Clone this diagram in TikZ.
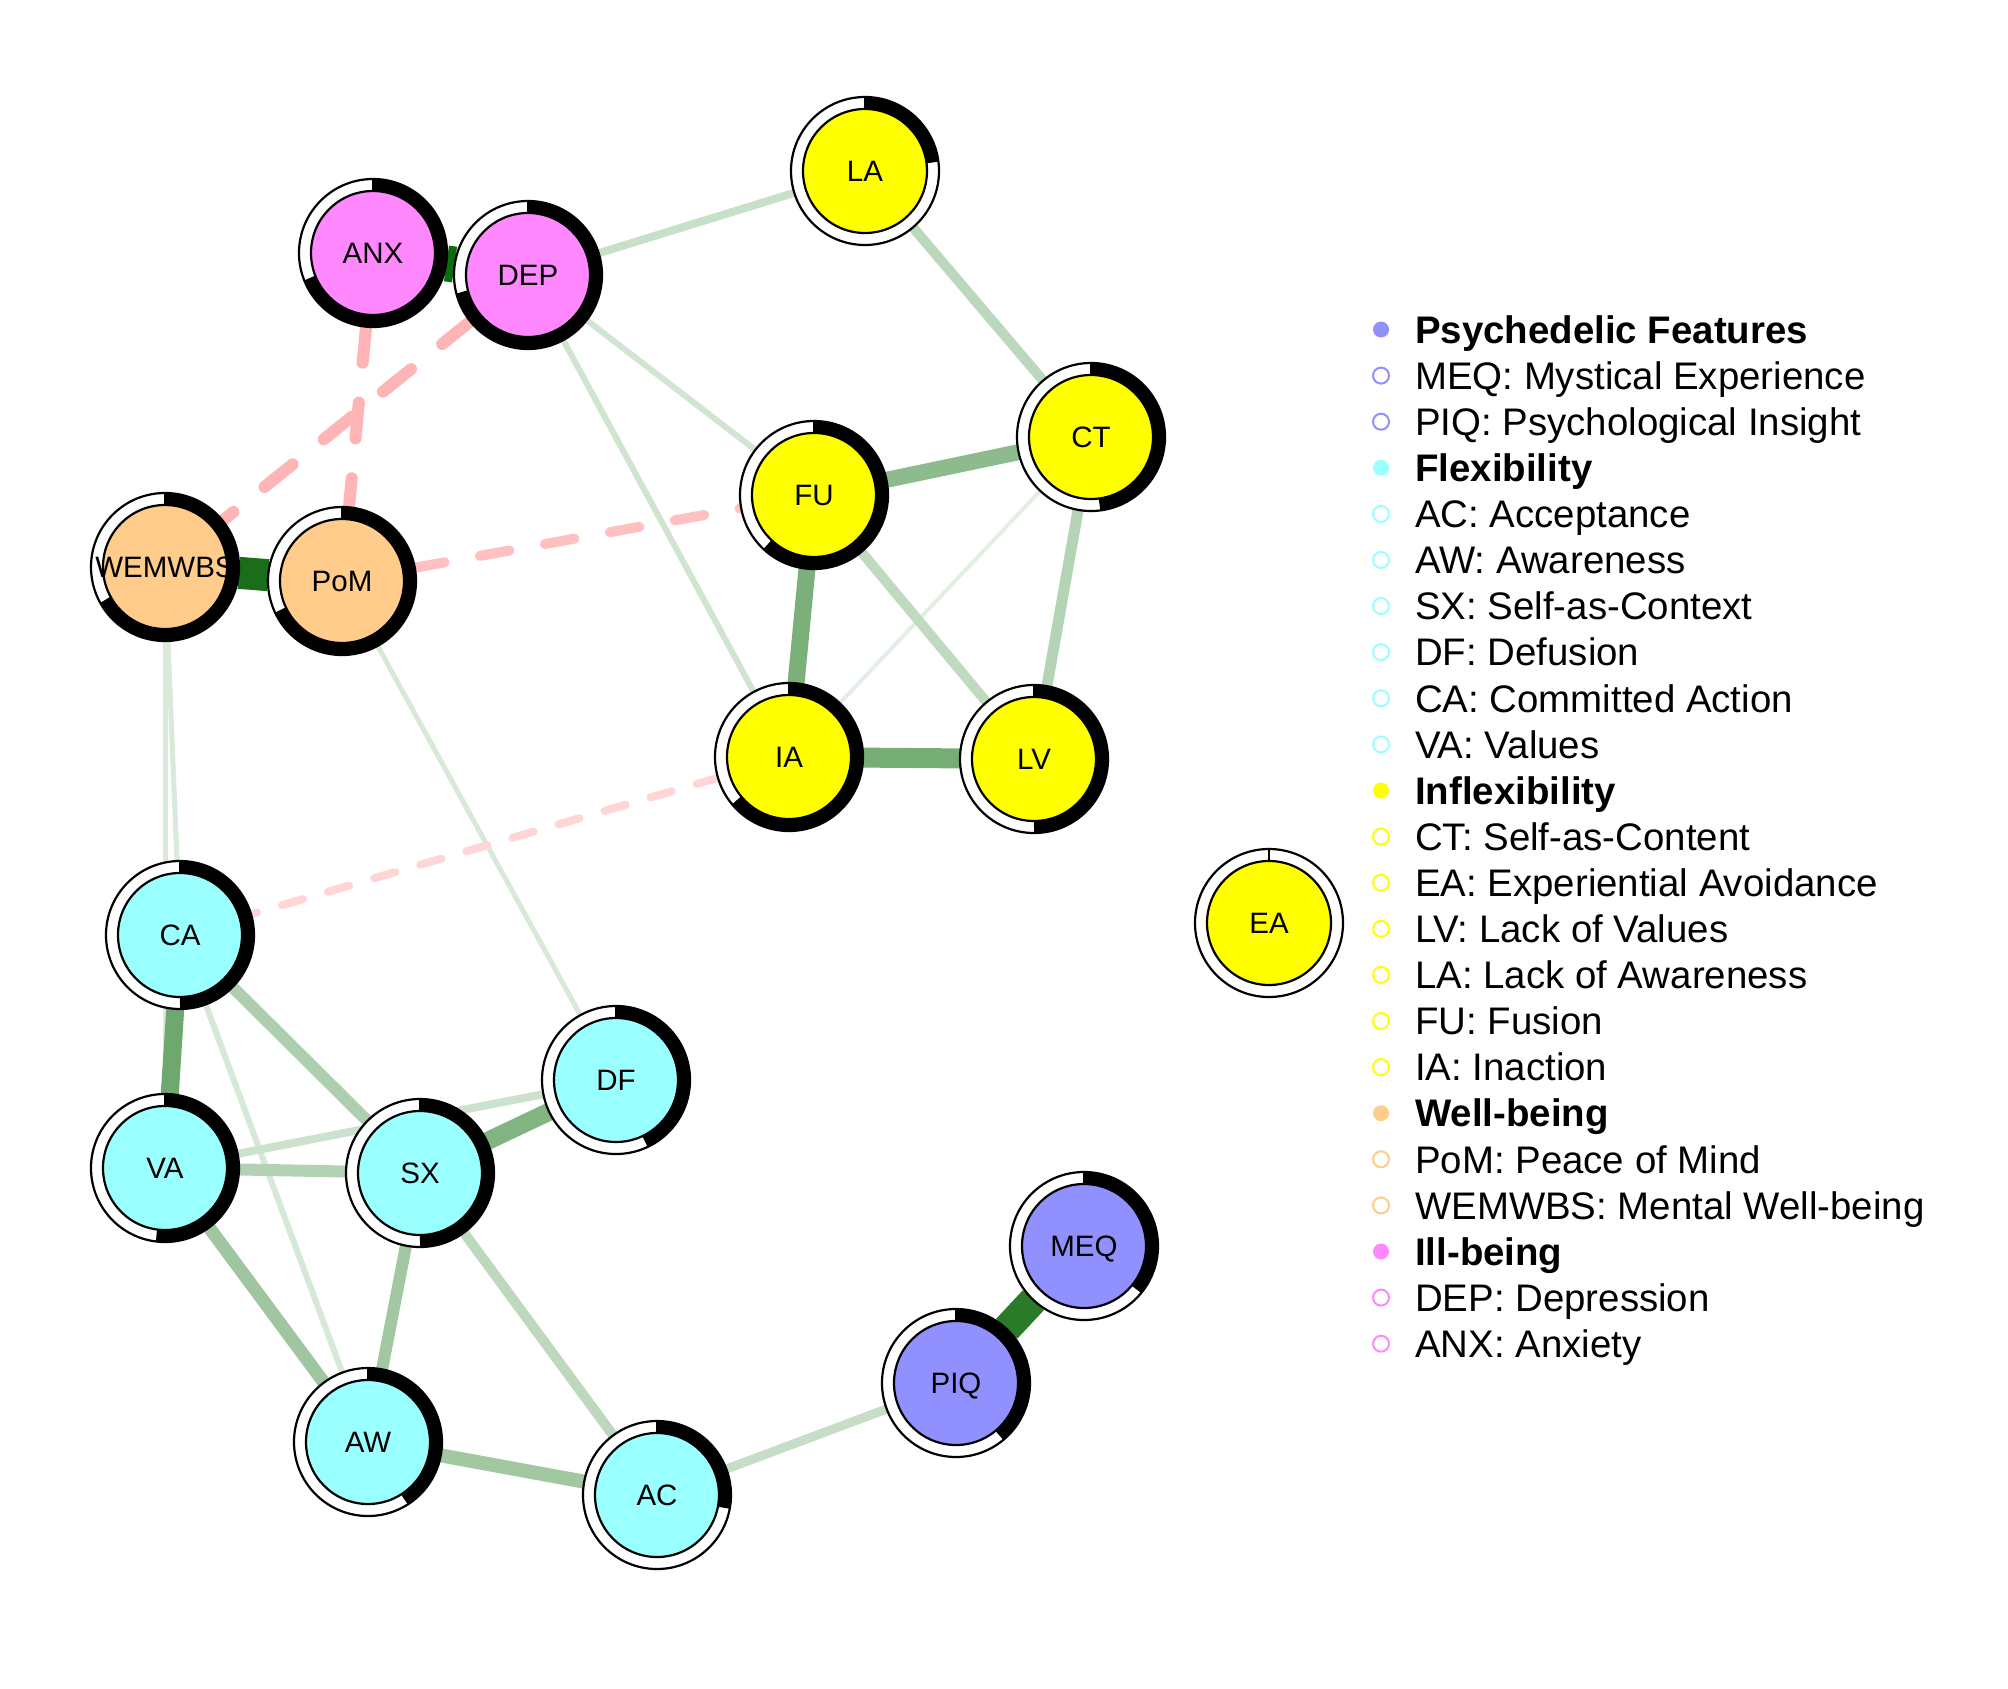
\documentclass[tikz,border=0pt]{standalone}
\usepackage{fontspec}
\setmainfont{Liberation Sans}
\definecolor{cPsy}{RGB}{144,144,255}
\definecolor{cFlex}{RGB}{153,255,255}
\definecolor{cInf}{RGB}{255,255,0}
\definecolor{cWell}{RGB}{255,204,140}
\definecolor{cIll}{RGB}{255,136,255}
\definecolor{negA}{RGB}{255,181,181}
\definecolor{negB}{RGB}{255,192,192}
\definecolor{negC}{RGB}{255,213,213}
\definecolor{eCTIA}{RGB}{228,239,228}
\definecolor{eWECA}{RGB}{218,234,218}
\definecolor{ePoDF}{RGB}{216,233,216}
\definecolor{eCAAW}{RGB}{214,232,214}
\definecolor{eDEFU}{RGB}{210,229,210}
\definecolor{eDEIA}{RGB}{208,228,208}
\definecolor{eVADF}{RGB}{205,226,205}
\definecolor{eDELA}{RGB}{200,224,200}
\definecolor{eACPI}{RGB}{198,222,198}
\definecolor{eLACT}{RGB}{188,216,188}
\definecolor{eFULV}{RGB}{191,218,191}
\definecolor{eSXAC}{RGB}{189,216,189}
\definecolor{eCTLV}{RGB}{181,212,181}
\definecolor{eVASX}{RGB}{179,210,179}
\definecolor{eCASX}{RGB}{174,207,174}
\definecolor{eSXAW}{RGB}{162,200,162}
\definecolor{eVAAW}{RGB}{159,198,159}
\definecolor{eAWAC}{RGB}{162,200,162}
\definecolor{eFUCT}{RGB}{141,187,141}
\definecolor{eFUIA}{RGB}{123,176,123}
\definecolor{eSXDF}{RGB}{128,180,128}
\definecolor{eCAVA}{RGB}{110,168,110}
\definecolor{eIALV}{RGB}{117,173,117}
\definecolor{eANDE}{RGB}{15,107,15}
\definecolor{eWEPo}{RGB}{26,110,26}
\definecolor{eMEPI}{RGB}{42,122,42}
\tikzset{
  vtx/.style={circle, minimum size=148pt, inner sep=0pt, draw=none},
  posedge/.style 2 args={draw=#2, line width=#1, line cap=butt},
  negedge/.style n args={4}{draw=#2, line width=#1, line cap=round, dash pattern=on #3 off #4},
  lbl/.style={font=\fontsize{29.5}{30}\selectfont, inner sep=0pt, text height=21pt, text depth=0pt, anchor=center},
  legtxt/.style={font=\fontsize{38.4}{40}\selectfont, inner sep=0pt, anchor=base west},
}
\newcommand\drawvtx[4]{%
  \fill[white] (#1.center) circle[radius=74];
  \ifdim #4pt>0pt
    \draw[line width=12pt, line cap=butt] (#1.center) ++(90:68) arc[start angle=90, end angle={90-360*#4}, radius=68];
  \fi
  \draw[line width=2.2pt] (#1.center) circle[radius=74];
  \draw[line width=2.2pt] (#1.center) ++(90:62) -- ++(90:12);
  \draw[line width=2.2pt, fill=#3] (#1.center) circle[radius=62];
  \node[lbl] at (#1.center) {#2};
}
\newcommand\legitem[4]{% y, colour, filled?, text
  \ifnum#3=1
    \fill[#2] (1381,-#1) circle[radius=8];
    \node[legtxt] at (1415,{-#1-13.75}) {\bfseries #4};
  \else
    \draw[#2, line width=2pt] (1381,-#1) circle[radius=8];
    \node[legtxt] at (1415,{-#1-13.75}) {#4};
  \fi
}
\begin{document}
\begin{tikzpicture}[x=1pt,y=1pt]
\fill[white] (0,0) rectangle (2008,-1689);
\useasboundingbox (0,0) rectangle (2008,-1689);

% vertex placeholders
\node[vtx] (ANX) at (373,-253) {};
\node[vtx] (DEP) at (528,-275) {};
\node[vtx] (LA) at (865,-171) {};
\node[vtx] (CT) at (1091,-437) {};
\node[vtx] (FU) at (814,-495) {};
\node[vtx] (WEMWBS) at (165,-567) {};
\node[vtx] (PoM) at (342,-581) {};
\node[vtx] (IA) at (789,-757) {};
\node[vtx] (LV) at (1034,-759) {};
\node[vtx] (EA) at (1269,-923) {};
\node[vtx] (CA) at (180,-935) {};
\node[vtx] (DF) at (616,-1080) {};
\node[vtx] (VA) at (165,-1168) {};
\node[vtx] (SX) at (420,-1173) {};
\node[vtx] (MEQ) at (1084,-1246) {};
\node[vtx] (PIQ) at (956,-1383) {};
\node[vtx] (AW) at (368,-1442) {};
\node[vtx] (AC) at (657,-1495) {};

% light edges
\draw[posedge={4pt}{eCTIA}] (CT) -- (IA);
\draw[posedge={5pt}{eWECA}] (WEMWBS) -- (CA);
\draw[posedge={5pt}{eWECA}] (WEMWBS) -- (VA);
\draw[posedge={5pt}{ePoDF}] (PoM) -- (DF);
\draw[posedge={6pt}{eCAAW}] (CA) -- (AW);
\draw[posedge={6pt}{eDEFU}] (DEP) -- (FU);
\draw[posedge={6pt}{eDEIA}] (DEP) -- (IA);
\draw[posedge={8pt}{eVADF}] (VA) -- (DF);
\draw[posedge={8pt}{eDELA}] (DEP) -- (LA);
\draw[posedge={9pt}{eACPI}] (AC) -- (PIQ);
\draw[posedge={10pt}{eLACT}] (LA) -- (CT);
\draw[posedge={10pt}{eFULV}] (FU) -- (LV);
\draw[posedge={10pt}{eSXAC}] (SX) -- (AC);
\draw[posedge={11pt}{eCTLV}] (CT) -- (LV);
\draw[posedge={12pt}{eVASX}] (VA) -- (SX);
\draw[posedge={12pt}{eCASX}] (CA) -- (SX);
\draw[posedge={12pt}{eSXAW}] (SX) -- (AW);
\draw[posedge={13pt}{eVAAW}] (VA) -- (AW);
\draw[posedge={14pt}{eAWAC}] (AW) -- (AC);
% medium edges
\draw[posedge={16pt}{eFUCT}] (FU) -- (CT);
\draw[posedge={17pt}{eFUIA}] (FU) -- (IA);
\draw[posedge={18pt}{eSXDF}] (SX) -- (DF);
\draw[posedge={18pt}{eCAVA}] (CA) -- (VA);
\draw[posedge={20pt}{eIALV}] (IA) -- (LV);
% strong edges
\draw[posedge={36pt}{eANDE}] (ANX) -- (DEP);
\draw[posedge={32pt}{eWEPo}] (WEMWBS) -- (PoM);
\draw[posedge={29pt}{eMEPI}] (MEQ) -- (PIQ);
% negative edges
\draw[negedge={12pt}{negA}{36pt}{40pt}] (DEP) -- (WEMWBS);
\draw[negedge={12pt}{negA}{36pt}{40pt}] (ANX) -- (PoM);
\draw[negedge={10pt}{negB}{30pt}{36pt}] (PoM) -- (FU);
\draw[negedge={8pt}{negC}{22pt}{26pt}] (IA) -- (CA);

% vertices
\drawvtx{ANX}{ANX}{cIll}{0.69}
\drawvtx{DEP}{DEP}{cIll}{0.71}
\drawvtx{LA}{LA}{cInf}{0.23}
\drawvtx{CT}{CT}{cInf}{0.48}
\drawvtx{FU}{FU}{cInf}{0.62}
\drawvtx{WEMWBS}{WEMWBS}{cWell}{0.67}
\drawvtx{PoM}{PoM}{cWell}{0.68}
\drawvtx{IA}{IA}{cInf}{0.64}
\drawvtx{LV}{LV}{cInf}{0.50}
\drawvtx{EA}{EA}{cInf}{0}
\drawvtx{CA}{CA}{cFlex}{0.50}
\drawvtx{DF}{DF}{cFlex}{0.43}
\drawvtx{VA}{VA}{cFlex}{0.52}
\drawvtx{SX}{SX}{cFlex}{0.50}
\drawvtx{MEQ}{MEQ}{cPsy}{0.36}
\drawvtx{PIQ}{PIQ}{cPsy}{0.39}
\drawvtx{AW}{AW}{cFlex}{0.41}
\drawvtx{AC}{AC}{cFlex}{0.28}

% legend
\legitem{329.5}{cPsy}{1}{Psychedelic Features}
\legitem{375.6}{cPsy}{0}{MEQ: Mystical Experience}
\legitem{421.7}{cPsy}{0}{PIQ: Psychological Insight}
\legitem{467.8}{cFlex}{1}{Flexibility}
\legitem{513.9}{cFlex}{0}{AC: Acceptance}
\legitem{560.0}{cFlex}{0}{AW: Awareness}
\legitem{606.1}{cFlex}{0}{SX: Self-as-Context}
\legitem{652.2}{cFlex}{0}{DF: Defusion}
\legitem{698.3}{cFlex}{0}{CA: Committed Action}
\legitem{744.4}{cFlex}{0}{VA: Values}
\legitem{790.5}{cInf}{1}{Inflexibility}
\legitem{836.6}{cInf}{0}{CT: Self-as-Content}
\legitem{882.7}{cInf}{0}{EA: Experiential Avoidance}
\legitem{928.8}{cInf}{0}{LV: Lack of Values}
\legitem{974.9}{cInf}{0}{LA: Lack of Awareness}
\legitem{1021.0}{cInf}{0}{FU: Fusion}
\legitem{1067.1}{cInf}{0}{IA: Inaction}
\legitem{1113.2}{cWell}{1}{Well-being}
\legitem{1159.3}{cWell}{0}{PoM: Peace of Mind}
\legitem{1205.4}{cWell}{0}{WEMWBS: Mental Well-being}
\legitem{1251.5}{cIll}{1}{Ill-being}
\legitem{1297.6}{cIll}{0}{DEP: Depression}
\legitem{1343.7}{cIll}{0}{ANX: Anxiety}
\end{tikzpicture}
\end{document}
